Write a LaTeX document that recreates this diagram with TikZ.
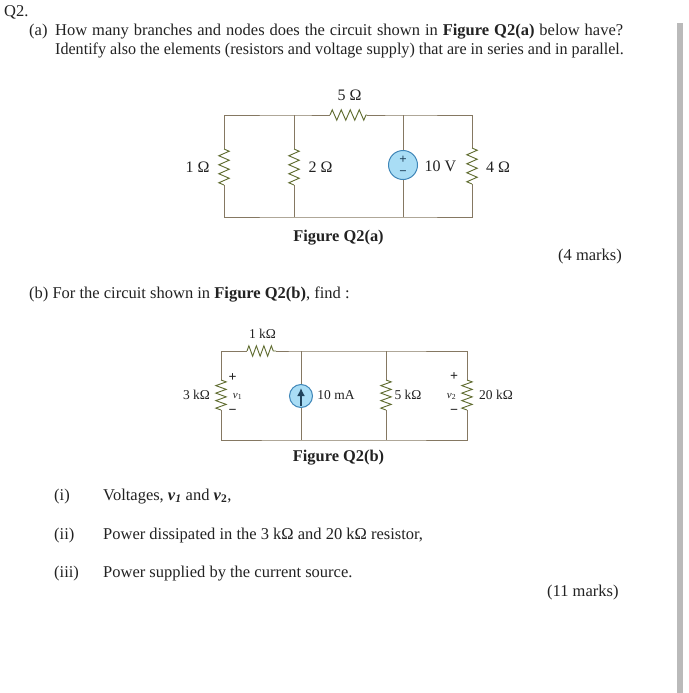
\documentclass[tikz,border=0pt]{standalone}
\usepackage{fontspec}
\setmainfont{Liberation Serif}
\usetikzlibrary{decorations.pathmorphing,arrows.meta}
\definecolor{wirec}{HTML}{857862}
\definecolor{resc}{HTML}{5E6B2E}
\definecolor{srcfill}{HTML}{A9DDF5}
\definecolor{srcdraw}{HTML}{3F86B8}
\definecolor{inkc}{HTML}{222222}
\tikzset{
  wire/.style={draw=wirec,line width=0.9pt},
  resv/.style={draw=resc,line width=0.9pt,decorate,decoration={zigzag,segment length=#1,amplitude=5.2pt}},
  resv/.default=9pt,
  srcnode/.style={circle,draw=srcdraw,fill=srcfill,line width=1pt,inner sep=0pt},
  txt/.style={text=inkc,inner sep=0pt,anchor=base west,font=\fontsize{16.5}{18}\selectfont},
  lab/.style={text=inkc,inner sep=0pt,anchor=base,font=\fontsize{16}{18}\selectfont},
  labs/.style={text=inkc,inner sep=0pt,anchor=base,font=\fontsize{13.5}{15}\selectfont},
  signs/.style={text=inkc,inner sep=0pt,anchor=base,font=\fontsize{14}{15}\bfseries\selectfont},
  volts/.style={text=inkc,inner sep=0pt,anchor=base,font=\fontsize{11}{12}\itshape\selectfont},
  srcsign/.style={text=srcdraw!50!black,inner sep=0pt,anchor=base,font=\fontsize{13}{14}\bfseries\selectfont},
  figcap/.style={text=inkc,inner sep=0pt,anchor=base,font=\fontsize{16.4}{18}\selectfont\bfseries},
}
\begin{document}
\begin{tikzpicture}[x=1pt,y=-1pt]
\useasboundingbox (0,0) rectangle (688,693);
\fill[white] (0,0) rectangle (688,693);
\fill[black!27] (677,23) rectangle (683,693);
% text
\node[txt] (q) at (4,17) {Q2.};
\node[txt] (pa0) at (29,36) {(a)};
\node[txt] (pa) at (55,36) {\makebox[568pt][s]{How many branches and nodes does the circuit shown in \textbf{Figure Q2(a)} below have?}};
\node[txt] (pa2) at (55,55) {\scalebox{.975}[1]{Identify also the elements (resistors and voltage supply) that are in series and in parallel.}};
\node[figcap] (capa) at (338.5,241.5) {Figure Q2(a)};
\node[txt] (m4) at (558,260) {(4 marks)};
\node[txt] (pb) at (29,298) {(b) For the circuit shown in \textbf{Figure Q2(b)}, find :};
\node[figcap] (capb) at (338.5,461.5) {Figure Q2(b)};
\node[txt] (ri) at (54,500) {(i)};
\node[txt] (ti) at (103,500) {Voltages, \textbf{\textit{v\textsubscript{1}}} and \textbf{\textit{v}}\textbf{\textsubscript{2}},};
\node[txt] (rii) at (54,539.5) {(ii)};
\node[txt] (tii) at (103,539.5) {Power dissipated in the 3 kΩ and 20 kΩ resistor,};
\node[txt] (riii) at (54,577) {(iii)};
\node[txt] (tiii) at (103,577) {Power supplied by the current source.};
\node[txt] (m11) at (547,596) {(11 marks)};
% circuit a
\coordinate (a1) at (224,115); \coordinate (a2) at (294,115); \coordinate (a3) at (403,115); \coordinate (a4) at (472,115);
\coordinate (b1) at (224,217); \coordinate (b2) at (294,217); \coordinate (b3) at (403,217); \coordinate (b4) at (472,217);
\coordinate (r1t) at (224,149); \coordinate (r1b) at (224,185);
\coordinate (r2t) at (294,149); \coordinate (r2b) at (294,185);
\coordinate (r4t) at (472,148); \coordinate (r4b) at (472,184);
\coordinate (r5l) at (330,115); \coordinate (r5r) at (367,115);
\node[srcnode,minimum size=29pt] (va) at (403,165) {};
\draw[wire] (r1t) -- (a1) -- (a2) -- (r5l);
\draw[wire] (r5r) -- (a3) -- (a4) -- (r4t);
\draw[wire] (r1b) -- (b1) -- (b2) -- (b3) -- (b4) -- (r4b);
\draw[wire] (a2) -- (r2t); \draw[wire] (r2b) -- (b2);
\draw[wire] (a3) -- (va); \draw[wire] (va) -- (b3);
\draw[resv] (r1t) -- (r1b); \draw[resv] (r2t) -- (r2b); \draw[resv] (r4t) -- (r4b); \draw[resv] (r5l) -- (r5r);
\node[srcsign] (vap) at (403,163) {+};
\node[srcsign] (vam) at (403,175.5) {−};
\node[lab] (l5) at (349.5,100.5) {5 Ω};
\node[lab] (l1) at (197.5,172.5) {1 Ω};
\node[lab] (l2) at (320.5,172.5) {2 Ω};
\node[lab] (l10) at (440.5,171) {10 V};
\node[lab] (l4) at (498,172.5) {4 Ω};
% circuit b
\coordinate (c1) at (221,351); \coordinate (c2) at (301,351); \coordinate (c3) at (386,351); \coordinate (c4) at (467,351);
\coordinate (d1) at (221,440); \coordinate (d2) at (301,440); \coordinate (d3) at (386,440); \coordinate (d4) at (467,440);
\coordinate (s3t) at (221,380); \coordinate (s3b) at (221,410);
\coordinate (s5t) at (386,380); \coordinate (s5b) at (386,410);
\coordinate (s20t) at (467,380); \coordinate (s20b) at (467,410);
\coordinate (s1l) at (247,351); \coordinate (s1r) at (276,351);
\node[srcnode,minimum size=23pt] (ib) at (301,396) {};
\draw[wire] (s3t) -- (c1) -- (s1l);
\draw[wire] (s1r) -- (c2) -- (c3) -- (c4) -- (s20t);
\draw[wire] (s3b) -- (d1) -- (d2) -- (d3) -- (d4) -- (s20b);
\draw[wire] (c2) -- (ib); \draw[wire] (ib) -- (d2);
\draw[wire] (c3) -- (s5t); \draw[wire] (s5b) -- (d3);
\draw[resv=7.5pt] (s3t) -- (s3b); \draw[resv=7.5pt] (s5t) -- (s5b); \draw[resv=7.5pt] (s20t) -- (s20b); \draw[resv=7.5pt] (s1l) -- (s1r);
\coordinate (ibb) at (301,406); \coordinate (ibt) at (301,388);
\draw[-{Latex[length=8pt,width=8pt]},line width=1.6pt,draw=srcdraw!50!black] (ibb) -- (ibt);
\node[labs] (k1) at (262.5,338) {1 kΩ};
\node[labs] (k3) at (196.5,399) {3 kΩ};
\node[labs] (ma) at (336,399.5) {10 mA};
\node[labs] (k5) at (408,399.5) {5 kΩ};
\node[labs] (k20) at (496,399.5) {20 kΩ};
\node[signs] (p1) at (232.5,381) {+};
\node[volts] (v1) at (237.5,398) {v\textsubscript{\upshape 1}};
\node[signs] (m1) at (232.5,414) {−};
\node[signs] (p2) at (454,380) {+};
\node[volts] (v2) at (451.5,398) {v\textsubscript{\upshape 2}};
\node[signs] (m2) at (454,414) {−};
\end{tikzpicture}
\end{document}
